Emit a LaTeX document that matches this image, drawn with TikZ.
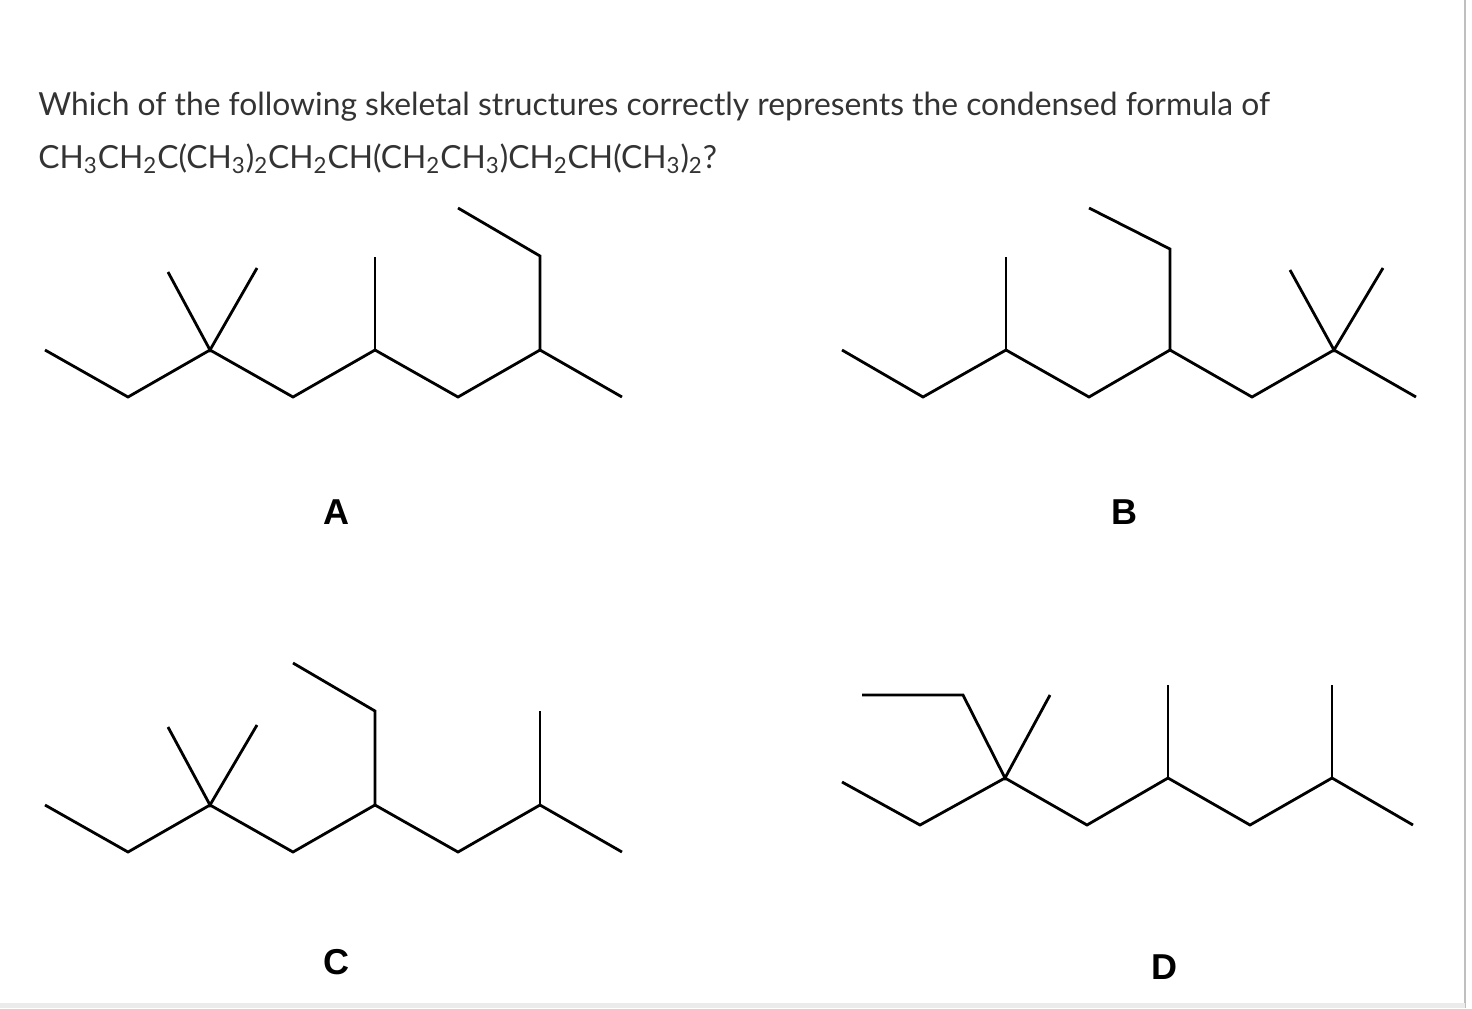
\documentclass[tikz,border=0pt]{standalone}
\usepackage{fontspec}
\setmainfont{Lato}
\newfontfamily\lab{Liberation Sans}
\begin{document}
\begin{tikzpicture}[x=0.5pt,y=-0.5pt,bond/.style={line width=1.4pt,line join=miter},
 lbl/.style={font=\lab\bfseries\fontsize{18}{20}\selectfont},
 q/.style={anchor=base west,inner sep=0pt,font=\fontsize{15.9}{18}\selectfont,text=black!80}]
\useasboundingbox (0,0) rectangle (1472,1008);
\fill[white] (0,0) rectangle (1472,1008);
\draw[black!25,line width=1pt] (1465,0) -- (1465,1008);
\fill[black!8] (0,1003) rectangle (1465,1008);
\node[q] (q1) at (38,115) {Which of the following skeletal structures correctly represents the condensed formula of};
\node[q] (q2) at (38,168) {CH\textsubscript{3}CH\textsubscript{2}C(CH\textsubscript{3})\textsubscript{2}CH\textsubscript{2}CH(CH\textsubscript{2}CH\textsubscript{3})CH\textsubscript{2}CH(CH\textsubscript{3})\textsubscript{2}?};
% A
\draw[bond] (45,350)--(128,397)--(210,350)--(293,397)--(375,350)--(458,397)--(540,350)--(622,397);
\draw[bond] (168,272)--(210,350)--(257,268);
\draw[bond] (375,350)--(375,257);
\draw[bond] (540,350)--(540,256)--(458,208);
\node[lbl] (A) at (336,512) {A};
% B
\draw[bond] (842,350)--(923,397)--(1006,350)--(1089,397)--(1170,350)--(1252,397)--(1334,350)--(1416,397);
\draw[bond] (1006,350)--(1006,257);
\draw[bond] (1170,350)--(1170,249)--(1089,208);
\draw[bond] (1290,270)--(1334,350)--(1383,268);
\node[lbl] (B) at (1124,512) {B};
% C
\draw[bond] (45,805)--(128,852)--(210,805)--(293,852)--(375,805)--(458,852)--(540,805)--(622,852);
\draw[bond] (168,727)--(210,805)--(257,725);
\draw[bond] (375,805)--(375,711)--(293,663);
\draw[bond] (540,805)--(540,711);
\node[lbl] (C) at (336,962) {C};
% D
\draw[bond] (842,782)--(920,825)--(1005,778)--(1087,825)--(1168,778)--(1250,825)--(1332,778)--(1413,825);
\draw[bond] (862,695)--(963,695)--(1005,778)--(1050,695);
\draw[bond] (1168,778)--(1168,685);
\draw[bond] (1332,778)--(1332,685);
\node[lbl] (D) at (1164,967) {D};
\end{tikzpicture}
\end{document}
